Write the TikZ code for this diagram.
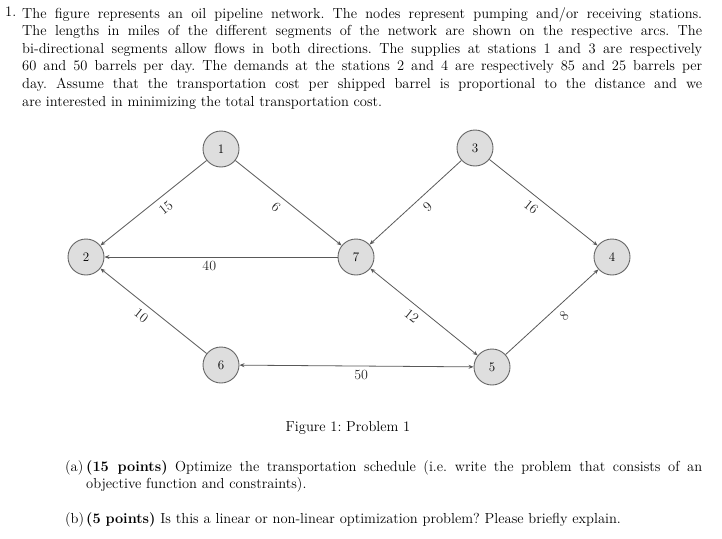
\documentclass[tikz,border=0pt]{standalone}
\usetikzlibrary{arrows.meta}
\begin{document}
\frenchspacing
\begin{tikzpicture}[x=1pt,y=-1pt,
  st/.style={circle,draw=black!60,fill=black!13,line width=0.9pt,minimum size=36pt,inner sep=0pt,font=\fontsize{13}{15}\selectfont},
  ed/.style={draw=black!65,line width=0.8pt,-{Stealth[length=5pt,width=4pt]}},
  bd/.style={draw=black!65,line width=0.8pt,{Stealth[length=5pt,width=4pt]}-{Stealth[length=5pt,width=4pt]}},
  lb/.style={font=\fontsize{14}{16}\selectfont,text=black!85,inner sep=6pt},
  tx/.style={font=\fontsize{14.5}{17.6}\selectfont,inner sep=0pt,align=justify}]
\useasboundingbox (0,0) rectangle (722,538);
\node[tx,anchor=north west] (n1) at (5,7) {1.};
\node[tx,anchor=north west,text width=680pt] (para) at (22,7) {The figure represents an oil pipeline network. The nodes represent pumping and/or receiving stations.\linebreak
The lengths in miles of the different segments of the network are shown on the respective arcs. The\linebreak
bi-directional segments allow flows in both directions. The supplies at stations 1 and 3 are respectively\linebreak
60 and 50 barrels per day. The demands at the stations 2 and 4 are respectively 85 and 25 barrels per\linebreak
day. Assume that the transportation cost per shipped barrel is proportional to the distance and we\linebreak
are interested in minimizing the total transportation cost.};
\node[st] (s1) at (221,149) {1};
\node[st] (s2) at (86,257) {2};
\node[st] (s7) at (356,257) {7};
\node[st] (s6) at (221,365) {6};
\node[st] (s3) at (475,148) {3};
\node[st] (s4) at (612,257) {4};
\node[st] (s5) at (492,367) {5};
\draw[ed] (s1) -- node[lb,sloped,below,pos=0.45] {15} (s2);
\draw[ed] (s1) -- node[lb,sloped,below,pos=0.45] {6} (s7);
\draw[ed] (s7) -- node[lb,below,pos=0.55,inner sep=4pt] {40} (s2);
\draw[ed] (s6) -- node[lb,sloped,below,pos=0.55] {10} (s2);
\draw[ed] (s3) -- node[lb,sloped,below,pos=0.45] {9} (s7);
\draw[ed] (s3) -- node[lb,sloped,below,pos=0.45] {16} (s4);
\draw[ed] (s5) -- node[lb,sloped,below,pos=0.55] {8} (s4);
\draw[bd] (s7) -- node[lb,sloped,below,pos=0.45] {12} (s5);
\draw[bd] (s6) -- node[lb,below,pos=0.52,inner sep=4pt] {50} (s5);
\node[tx] (cap) at (348,428) {Figure 1: Problem 1};
\node[tx,anchor=north west] (la) at (65,460) {(a)};
\node[tx,anchor=north west,text width=616pt] (ta) at (86,460) {\textbf{(15 points)} Optimize the transportation schedule (i.e. write the problem that consists of an\linebreak objective function and constraints).};
\node[tx,anchor=north west] (lbb) at (65,512) {(b)};
\node[tx,anchor=north west,text width=616pt,align=left] (tb) at (86,512) {\textbf{(5 points)} Is this a linear or non-linear optimization problem? Please briefly explain.};
\end{tikzpicture}
\end{document}
